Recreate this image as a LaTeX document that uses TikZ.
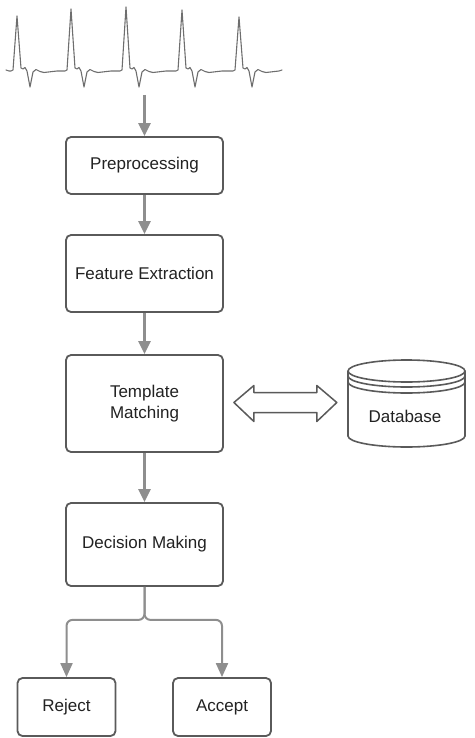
\documentclass[tikz,border=0pt]{standalone}
\usepackage{fontspec}
\setmainfont{Liberation Sans}
\usetikzlibrary{arrows.meta,calc}
\newcommand\diafont{\fontsize{17}{21}\selectfont}
\definecolor{boxc}{HTML}{5A5A5A}
\definecolor{arrc}{HTML}{8E8E8E}
\definecolor{ecgc}{HTML}{6E6E6E}
\definecolor{txtc}{HTML}{222222}
\tikzset{
  box/.style={draw=boxc, line width=1.8pt, rounded corners=5pt, fill=white,
    font=\diafont, text=txtc, align=center, inner sep=0pt},
  flow/.style={draw=arrc, line width=2.8pt, -{Triangle[width=12pt,length=13pt]}},
  branch/.style={draw=arrc, line width=2pt, rounded corners=6pt, -{Triangle[width=12pt,length=14pt]}},
  ecg/.style={draw=ecgc, line width=1.1pt, line join=round, line cap=round},
  dbline/.style={draw=boxc, line width=1.6pt},
}
\begin{document}
\begin{tikzpicture}[x=1pt,y=-1pt]
\useasboundingbox (0,0) rectangle (474,738);
% ECG signal
\draw[ecg] (6,70) -- (9,71)
  \foreach \r/\p in {17/16,71/9,126/7,182/10,239/17} {
    -- ({\r-6},71) -- ({\r-4},70) -- (\r,\p) -- ({\r+4},68) -- ({\r+6},69)
    -- ({\r+8},67.5) -- ({\r+10},71) -- ({\r+13},87) -- ({\r+16},72)
    -- ({\r+19},69.5) -- ({\r+23},71.5) -- ({\r+27},72.5) -- ({\r+40},71)
  } -- (282,70);
\coordinate (ecgend) at (144.5,95);
% boxes
\node[box, minimum width=157pt, minimum height=57pt] (pre) at (144.5,165.5) {Preprocessing};
\node[box, minimum width=157pt, minimum height=77pt] (fe) at (144.5,273.5) {Feature Extraction};
\node[box, minimum width=157pt, minimum height=97pt] (tm) at (144.5,403.5) {Template\\Matching};
\node[box, minimum width=157pt, minimum height=83pt] (dm) at (144.5,544.5) {Decision Making};
\node[box, minimum width=98pt, minimum height=58pt] (rej) at (66.5,707) {Reject};
\node[box, minimum width=98pt, minimum height=58pt] (acc) at (222,707) {Accept};
% database cylinder
\node[minimum width=117pt, minimum height=87pt, inner sep=0pt] (db) at (406.5,403.5) {};
\draw[dbline, fill=white] (348,371) -- (348,436)
  .. controls (348,442.1) and (374.2,447) .. (406.5,447)
  .. controls (438.8,447) and (465,442.1) .. (465,436) -- (465,371);
\draw[dbline] (406.5,371) ellipse [x radius=58.5, y radius=11];
\draw[dbline] (348,376) .. controls (348,382.1) and (374.2,387) .. (406.5,387)
  .. controls (438.8,387) and (465,382.1) .. (465,376);
\draw[dbline] (348,382) .. controls (348,388.1) and (374.2,393) .. (406.5,393)
  .. controls (438.8,393) and (465,388.1) .. (465,382);
\node[font=\diafont, text=txtc] (dbt) at (405,416) {Database};
% arrows
\draw[flow] (ecgend) -- (pre.north);
\draw[flow] (pre.south) -- (fe.north);
\draw[flow] (fe.south) -- (tm.north);
\draw[flow] (tm.south) -- (dm.north);
\draw[branch] (dm.south) -- ++(0,33) -| (rej.north);
\draw[branch] (dm.south) -- ++(0,33) -| (acc.north);
% double arrow
\coordinate (dl) at ($(tm.east)+(10,-1)$);
\coordinate (dr) at ($(db.west)+(-11,-1)$);
\draw[draw=boxc, line width=1.5pt, line join=round, fill=white]
  (dl) -- ($(dl)+(20,-17)$) -- ($(dl)+(20,-10)$) -- ($(dr)+(-20,-10)$)
  -- ($(dr)+(-20,-17)$) -- (dr) -- ($(dr)+(-20,19)$) -- ($(dr)+(-20,10)$)
  -- ($(dl)+(20,10)$) -- ($(dl)+(20,19)$) -- cycle;
\end{tikzpicture}
\end{document}
